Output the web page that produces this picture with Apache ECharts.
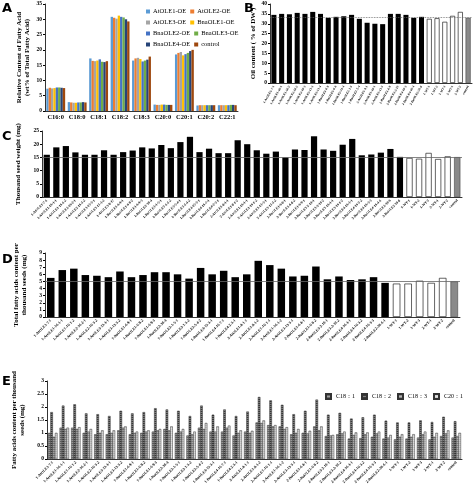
<!DOCTYPE html>
<html>
<head>
<meta charset="utf-8">
<script src="https://cdn.jsdelivr.net/npm/echarts@6/dist/echarts.min.js"></script>
<style>html,body{margin:0;padding:0;background:#fff}#chart{width:474px;height:501px}</style>
</head>
<body>
<div id="chart"></div>
<script>
// ---- panel A ----
var faCats=['C16:0','C18:0','C18:1','C18:2','C18:3','C20:0','C20:1','C20:2','C22:1'];
var faNames=['AtOLE1-OE','AtOLE2-OE','AtOLE3-OE','BnaOLE1-OE','BnaOLE2-OE','BnaOLE3-OE','BnaOLE4-OE','control'];
var faColors=['#5b9bd5','#ed7d31','#a5a5a5','#ffc000','#4472c4','#70ad47','#264478','#9e480e'];
var faVals=[
  [7.3,2.9,17.2,30.8,16.5,2.1,18.5,1.8,1.9],
  [7.6,2.8,16.4,30.5,17.2,2.0,19.0,1.9,1.9],
  [7.4,2.7,16.3,30.2,17.4,2.0,19.3,1.9,1.9],
  [7.5,2.7,16.5,31.2,17.0,2.1,18.2,1.9,1.9],
  [7.7,2.8,16.9,30.8,16.2,2.1,18.6,1.9,1.9],
  [7.7,2.8,16.1,30.6,16.5,2.0,19.0,1.9,2.0],
  [7.6,2.9,16.0,30.0,16.8,2.0,19.6,1.9,2.0],
  [7.5,2.8,16.3,29.3,17.8,2.0,20.0,1.9,1.9]
];
// ---- panel B ----
var oilCats=['1-AtOLE1-7-1','1-AtOLE1-16-1','1-AtOLE1-16-2','1-AtOLE2-16-2','1-AtOLE2-16-3','1-AtOLE3-13-3','1-AtOLE3-13-4','1-BnOLE1-6-9','1-BnOLE1-6-8','1-BnOLE2-30-4','1-BnOLE3-1-5','1-BnOLE3-5-4','2-AtOLE1-8-1','2-AtOLE1-16-1','2-AtOLE3-13-3','2-BnOLE1-6-8','2-BnOLE3-2-10','2-BnOLE4-16-3','2-BnOLE4-16-4','2-BnOLE2-30-6','1-WT-1','1-WT-2','1-WT-3','2-WT-1','2-WT-2','control'];
var oilVals=[34.5,35,34.8,35.5,35,36,35,33,33.5,33.8,34.5,32.5,30.5,30,29.8,35,35,34.5,33,33.5,32.5,32.8,31,34,36,33];
// ---- panel C ----
var tswCats=['1-AtOLE1-7-1','1-AtOLE1-16-1-1','1-AtOLE1-16-1-2','1-AtOLE2-16-2-1','1-AtOLE2-16-3-2','1-AtOLE3-13-3-1','1-AtOLE3-13-3-2','1-AtOLE3-8-17','1-BnOLE1-6-9-1','1-BnOLE1-6-9-2','1-BnOLE1-6-9-3','1-BnOLE2-30-4','1-BnOLE3-1-5-1','1-BnOLE3-1-5-2','1-BnOLE3-5-4-1','1-BnOLE3-5-4-2','1-BnOLE4-15-3-1','1-BnOLE4-16-7-1','1-BnOLE4-2-5-1','2-AtOLE1-8-1-1','2-AtOLE1-8-1-2','2-AtOLE1-16-1-1','2-AtOLE1-16-1-2','2-AtOLE3-13-3-1','2-AtOLE3-13-3-2','2-BnOLE1-6-8-1','2-BnOLE1-6-8-2','2-BnOLE1-6-9-1','2-BnOLE3-2-10-1','2-BnOLE3-2-10-2','2-BnOLE3-16-1-1','2-BnOLE3-16-1-2','2-BnOLE4-16-3-1','2-BnOLE4-16-3-2','2-BnOLE4-16-3-3','2-BnOLE4-16-4-1','2-BnOLE2-30-6','2-BnOLE2-30-8','1-WT-1','1-WT-2','1-WT-3','2-WT-1','2-WT-2','control'];
var tswVals=[16,18.8,19.3,16.9,16,16,17.7,16,17,17.6,18.8,18.4,19.7,18.5,20.8,22.8,17,18.3,16.6,16.6,21.5,20,17.7,16.4,17.2,15,18,17.8,23,18,17.5,19.8,22,15.8,16.1,16.8,18.2,15.2,14.8,14.5,16.7,14.4,15.4,15.1];
// ---- panel D / E ----
var faCats2=['1-AtOLE1-7-1','1-AtOLE1-16-1-1','1-AtOLE1-16-1-2','1-AtOLE2-16-2-1','1-AtOLE2-16-3-2','1-AtOLE3-13-3-1','1-AtOLE3-13-3-2','1-BnOLE1-6-9-1','1-BnOLE1-6-9-2','1-BnOLE1-6-9-3','1-BnOLE2-30-4','1-BnOLE3-1-5-1','1-BnOLE3-1-5-2','1-BnOLE3-5-4-2','1-BnOLE4-15-3-1','1-BnOLE4-16-7-1','1-BnOLE4-2-5-1','2-AtOLE1-8-1-1','2-AtOLE1-8-1-2','2-AtOLE1-16-1-1','2-AtOLE1-16-1-2','2-AtOLE3-13-3-1','2-BnOLE1-6-8-1','2-BnOLE1-6-8-2','2-BnOLE3-2-10-1','2-BnOLE3-2-10-2','2-BnOLE4-16-3-1','2-BnOLE4-16-3-2','2-BnOLE4-16-3-3','2-BnOLE2-30-6-1','1-WT-1','1-WT-2','1-WT-3','2-WT-1','2-WT-2','control'];
var totVals=[5.5,6.6,6.8,5.9,5.8,5.6,6.4,5.6,5.9,6.3,6.3,6.0,5.4,6.9,6.0,6.5,5.6,6.0,7.9,7.3,6.8,5.7,5.8,7.1,5.3,5.7,5.2,5.3,5.6,4.8,4.7,4.7,5.1,4.8,5.5,5.0];
var eNames=['C18：1','C18：2','C18：3','C20：1'];
var c181=[1.0,1.2,1.2,1.0,0.95,0.95,1.1,0.95,1.0,1.05,1.15,1.0,0.9,1.2,1.05,1.05,0.9,1.05,1.4,1.3,1.25,0.95,1.0,1.25,0.88,0.95,0.78,0.8,0.85,0.78,0.75,0.78,0.82,0.75,0.88,0.82];
var c182=[1.8,2.05,2.1,1.75,1.72,1.65,1.85,1.75,1.8,1.95,1.9,1.85,1.65,2.05,1.7,1.9,1.65,1.82,2.38,2.25,2.08,1.72,1.85,2.28,1.7,1.77,1.55,1.6,1.7,1.47,1.4,1.4,1.48,1.42,1.62,1.45];
var c183=[0.85,1.15,1.15,1.05,1.0,1.0,1.2,1.0,1.05,1.1,1.1,1.05,0.95,1.15,1.05,1.2,1.0,1.0,1.38,1.25,1.15,1.0,0.98,1.1,0.9,0.98,0.92,0.95,0.98,0.82,0.85,0.85,0.95,0.85,0.98,0.88];
var c201=[1.0,1.2,1.22,1.15,1.1,1.1,1.25,1.05,1.1,1.15,1.25,1.15,1.05,1.38,1.25,1.28,1.1,1.08,1.48,1.3,1.22,1.15,1.08,1.25,0.92,1.05,1.02,1.02,1.05,0.92,0.95,0.95,1.05,1.0,1.1,1.0];

var ser='Liberation Serif';
var chart=echarts.init(document.getElementById('chart'));
function barColors(vals,nWhite){
  return vals.map(function(v,i){
    var st;
    if(i==vals.length-1) st={color:'#8a8a8a',borderColor:'#333',borderWidth:0.5};
    else if(i>=vals.length-1-nWhite) st={color:'#fff',borderColor:'#222',borderWidth:0.7};
    else st={color:'#000'};
    return {value:v,itemStyle:st};
  });
}
function yAx(gi,max,step,name,gap){
  return {gridIndex:gi,type:'value',min:0,max:max,interval:step,name:name,nameLocation:'middle',nameGap:gap,
    nameTextStyle:{fontFamily:ser,fontWeight:'bold',fontSize:7,color:'#000',lineHeight:8},
    axisLine:{show:true,lineStyle:{color:'#000',width:0.8}},axisTick:{show:true,length:2},
    splitLine:{show:false},axisLabel:{fontFamily:ser,fontWeight:'bold',fontSize:5.5,color:'#000',margin:3}};
}
function xAx(gi,cats,rot,fs){
  return {gridIndex:gi,type:'category',data:cats,axisTick:{show:false},
    axisLine:{lineStyle:{color:'#000',width:0.8}},
    axisLabel:{interval:0,rotate:rot,fontFamily:ser,fontWeight:'bold',fontSize:fs,color:'#000',margin:3}};
}
var refLine=function(y,t){return {silent:true,symbol:'none',label:{show:false},lineStyle:{color:'#666',type:t,width:0.8},data:[{yAxis:y}]};};
var series=[];
faNames.forEach(function(n,i){
  series.push({name:n,type:'bar',xAxisIndex:0,yAxisIndex:0,data:faVals[i],itemStyle:{color:faColors[i]},barCategoryGap:'12%',barGap:'0%'});
});
series.push({type:'bar',xAxisIndex:1,yAxisIndex:1,data:barColors(oilVals,5),barCategoryGap:'35%',markLine:refLine(33.3,'dotted')});
series.push({type:'bar',xAxisIndex:2,yAxisIndex:2,data:barColors(tswVals,5),barCategoryGap:'35%',markLine:refLine(15,'solid')});
series.push({type:'bar',xAxisIndex:3,yAxisIndex:3,data:barColors(totVals,5),barCategoryGap:'35%',markLine:refLine(5,'solid')});
var eCols=['#6a6a6a','#3a3a3a','#8c8c8c','#d0d0d0'];
[c181,c182,c183,c201].forEach(function(d,i){
  series.push({name:eNames[i],type:'bar',xAxisIndex:4,yAxisIndex:4,data:d,barCategoryGap:'20%',barGap:'0%',
    itemStyle:{color:eCols[i],borderColor:'#333',borderWidth:0.3,decal:{symbol:'rect',dashArrayX:[1,0],dashArrayY:[1,1],rotation:0,color:'rgba(255,255,255,0.35)'}}});
});
var lab=function(t,x,y){return {type:'text',left:x,top:y,style:{text:t,font:'bold 13px "DejaVu Sans"',fill:'#000'}};};
chart.setOption({
  animation:false,
  aria:{enabled:false},
  grid:[
    {left:45,top:4,width:193,height:107},
    {left:270,top:4,right:2,height:79},
    {left:42,top:131,right:12,height:66},
    {left:45,top:253,right:14,height:64},
    {left:47,top:381,right:12,height:78}
  ],
  legend:[
    {data:faNames,left:141,top:3,width:100,orient:'horizontal',itemWidth:4,itemHeight:4,itemGap:4,
      textStyle:{fontFamily:ser,fontSize:6.5,color:'#000',width:40,padding:[0,0,0,-2]},icon:'rect'},
    {data:eNames,left:320,top:388,itemWidth:5,itemHeight:5,itemGap:6,
      textStyle:{fontFamily:ser,fontSize:6,color:'#000'},icon:'rect'}
  ],
  xAxis:[xAx(0,faCats,0,6.5),xAx(1,oilCats,60,3.2),xAx(2,tswCats,45,3.5),xAx(3,faCats2,45,3.8),xAx(4,faCats2,45,3.8)],
  yAxis:[
    yAx(0,35,5,'Relative Content of Fatty Acid\n(wt% of Total Fatty Acid)',14),
    yAx(1,40,5,'Oil content ( % of DW )',12),
    yAx(2,25,5,'Thousand seed weight (mg)',14),
    yAx(3,9,1,'Total fatty acids content per\nthousand seeds (mg)',16),
    yAx(4,3,0.5,'Fatty acids content per thousand\nseeds (mg)',18)
  ],
  series:series,
  graphic:[lab('A',2,2),lab('B',244,2),lab('C',2,130),lab('D',2,253),lab('E',2,375)]
});
</script>
</body>
</html>
